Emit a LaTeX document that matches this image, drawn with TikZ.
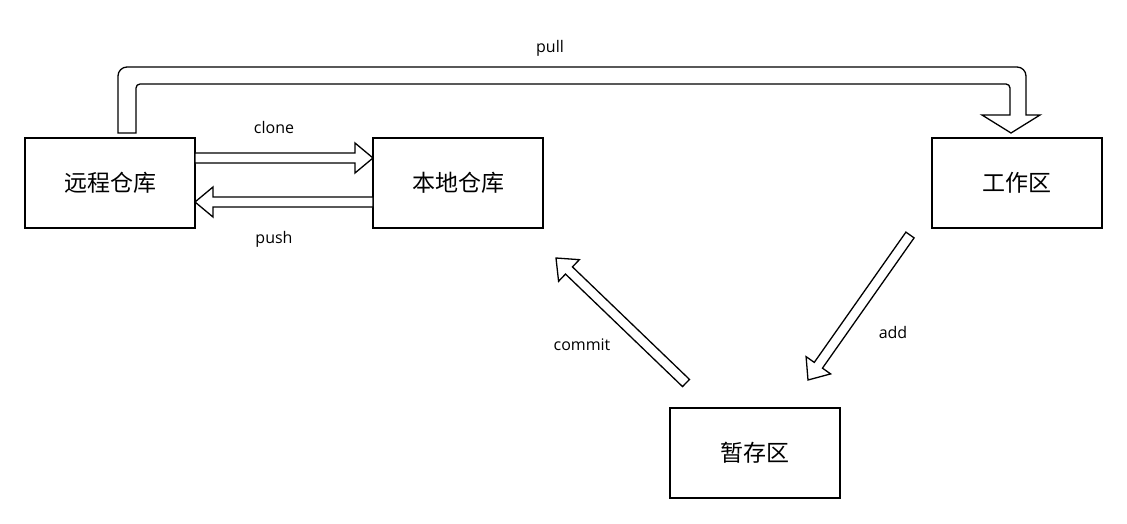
\documentclass[tikz,border=0pt]{standalone}
\usepackage{fontspec}
\setmainfont{Open Sans}
\newfontfamily\cjk{Noto Sans CJK SC}
\usetikzlibrary{calc}
\tikzset{box/.style={draw,line width=1.3pt,minimum width=170pt,minimum height=90pt,font=\cjk\fontsize{23}{26}\selectfont},
lbl/.style={font=\fontsize{16}{19}\selectfont},
harrow/.style={draw,line width=1.3pt,fill=white}}
\newcommand\hollowarrow[2]{%
 \coordinate (H) at ($(#2)!18pt!(#1)$);
 \path[harrow] ($(#1)!5pt!90:(#2)$) -- ($(H)!5pt!-90:(#1)$) -- ($(H)!15pt!-90:(#1)$) -- (#2)
 -- ($(H)!15pt!90:(#1)$) -- ($(H)!5pt!90:(#1)$) -- ($(#1)!5pt!-90:(#2)$) -- cycle;}
\begin{document}
\begin{tikzpicture}[x=1pt,y=-1pt]
\useasboundingbox (0,0) rectangle (1127,524);
\node[box] (remote) at (110,183) {远程仓库};
\node[box] (local) at (458,183) {本地仓库};
\node[box] (work) at (1017,183) {工作区};
\node[box] (stage) at (755,453) {暂存区};
% pull
\path[harrow] (118,133) [rounded corners=9pt] -- (118,67) -- (1026,67) [sharp corners] -- (1026,115) -- (1040,115) -- (1011,133) -- (982,115) -- (1010,115)
 [rounded corners=4pt] -- (1010,84) -- (136,84) [sharp corners] -- (136,133) -- cycle;
\node[lbl] (pull) at (550,48) {pull};
\coordinate (c1) at (195,158); \coordinate (c2) at (373,158);
\hollowarrow{c1}{c2}
\coordinate (p1) at (373,202); \coordinate (p2) at (195,202);
\hollowarrow{p1}{p2}
\node[lbl] at (274,128) {clone};
\node[lbl] at (274,239) {push};
\coordinate (a1) at (910,235); \coordinate (a2) at (808,380);
\hollowarrow{a1}{a2}
\node[lbl] at (893,332) {add};
\coordinate (m1) at (686,383); \coordinate (m2) at (556,258);
\hollowarrow{m1}{m2}
\node[lbl] at (582,345) {commit};
\end{tikzpicture}
\end{document}
